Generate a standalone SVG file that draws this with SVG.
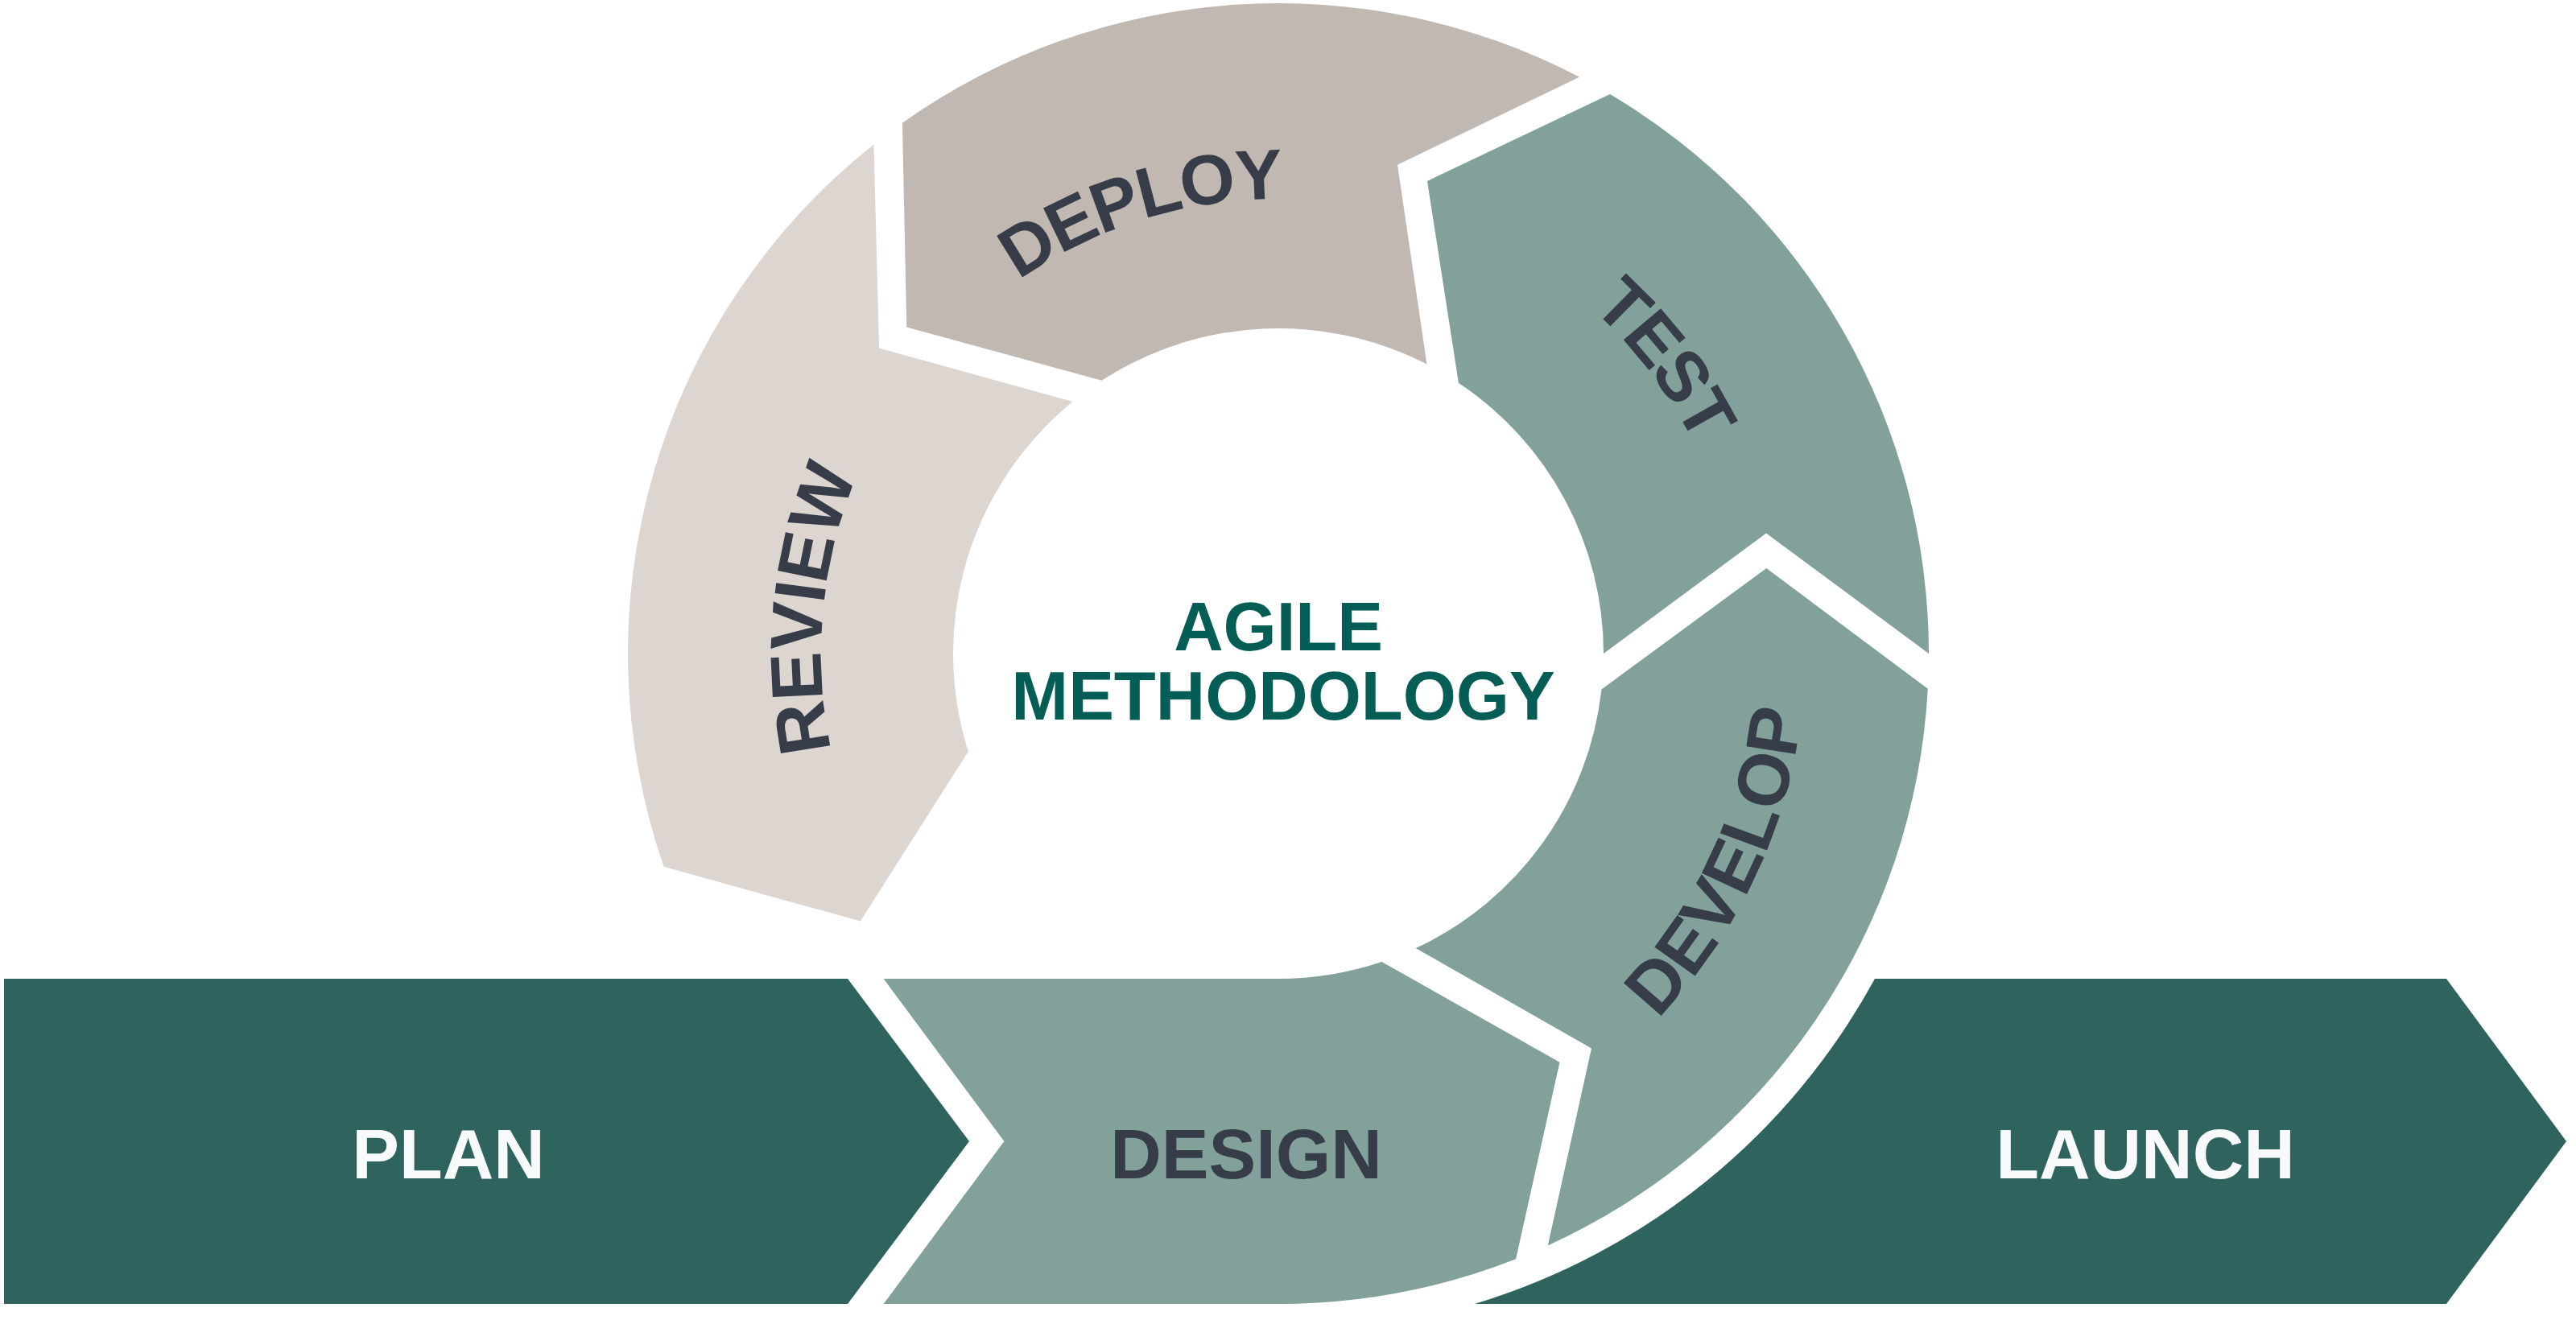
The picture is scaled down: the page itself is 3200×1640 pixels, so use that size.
<svg xmlns="http://www.w3.org/2000/svg" xmlns:xlink="http://www.w3.org/1999/xlink" width="3200" height="1640" viewBox="0 0 3200 1640">
<style>
  .lbl { font-family: "Liberation Sans", Arial, sans-serif; font-weight: bold; }
  .dark { fill: #2E635E; }
  .sage { fill: #82A19B; }
  .deploy { fill: #C2B8B2; }
  .review { fill: #DCD5D0; }
  .txt-dark { fill: #363D48; }
  .txt-white { fill: #F7F9FA; }
  .txt-teal { fill: #055E55; }
  .bar { font-size: 88px; text-anchor: middle; }
  .arc { font-size: 88px; letter-spacing: -2.5px; }
</style>
<defs>
  <path id="p-deploy" d="M1037.04,686.82 A565,565 0 0 1 1971.52,397.11"/>
  <path id="p-review" d="M1258.97,1275 A568,568 0 0 1 1351.55,295.55"/>
  <path id="p-test" d="M1513.93,237.76 A579,579 0 0 1 2122.34,1034.97"/>
  <path id="p-develop" d="M1644.03,1465.6 A658,658 0 0 0 2126.02,436.67"/>
</defs>
<rect x="0" y="0" width="3200" height="1640" fill="#FFFFFF"/>

<g id="plan">
  <polygon class="dark" points="5,1216 1053,1216 1204,1418 1053,1620 5,1620"/>
  <text class="lbl bar txt-white" x="557" y="1464">PLAN</text>
</g>

<g id="design">
  <path class="sage" d="M1097.6,1216 L1588,1216 A404,404 0 0 0 1716.5,1195 L1937.5,1319.7 L1883.1,1564.2 A808,808 0 0 1 1588,1620 L1097.6,1620 L1247.4,1418 Z"/>
  <text class="lbl bar txt-dark" x="1548" y="1464">DESIGN</text>
</g>

<g id="develop">
  <path class="sage" d="M1758.7,1178.1 L1977,1302.5 L1922.8,1547.4 A808,808 0 0 0 2394.8,855.7 L2194.3,706 L1989.5,856.5 A404,404 0 0 1 1758.7,1178.1 Z"/>
  <text class="lbl txt-dark" style="font-size:90px"><textPath xlink:href="#p-develop" href="#p-develop" startOffset="50%" text-anchor="middle">DEVELOP</textPath></text>
</g>

<g id="test">
  <path class="sage" d="M2000,116.9 L1773,225 L1811.9,475.7 A404,404 0 0 1 1992,812 L2194,662.5 L2396,812 A808,808 0 0 0 2000,116.9 Z"/>
  <text class="lbl arc txt-dark" style="letter-spacing:-3px"><textPath xlink:href="#p-test" href="#p-test" startOffset="50%" text-anchor="middle">TEST</textPath></text>
</g>

<g id="deploy">
  <path class="deploy" d="M1120.9,152.7 A808,808 0 0 1 1962,95.8 L1736,204.7 L1772.5,452.6 A404,404 0 0 0 1368.6,472.8 L1126.3,406.5 Z"/>
  <text class="lbl arc txt-dark"><textPath xlink:href="#p-deploy" href="#p-deploy" startOffset="50%" text-anchor="middle">DEPLOY</textPath></text>
</g>

<g id="review">
  <path class="review" d="M1085.4,179.4 L1092,432.6 L1332.5,499 A404,404 0 0 0 1202.8,933.7 L1068.8,1144.5 L824.6,1076.7 A808,808 0 0 1 1085.4,179.4 Z"/>
  <text class="lbl arc txt-dark" style="font-size:90px;letter-spacing:-1px"><textPath xlink:href="#p-review" href="#p-review" startOffset="50%" text-anchor="middle">REVIEW</textPath></text>
</g>

<g id="launch">
  <path class="dark" d="M2329,1216 L3039,1216 L3188,1418 L3039,1620 L1832,1620 A844,844 0 0 0 2329,1216 Z"/>
  <text class="lbl bar txt-white" x="2665" y="1464">LAUNCH</text>
</g>

<g id="center-title">
  <text class="lbl txt-teal" style="font-size:85px" text-anchor="middle" x="1588" y="808">AGILE</text>
  <text class="lbl txt-teal" style="font-size:85px" text-anchor="middle" x="1594" y="894">METHODOLOGY</text>
</g>

<g id="connectors"></g>
</svg>
